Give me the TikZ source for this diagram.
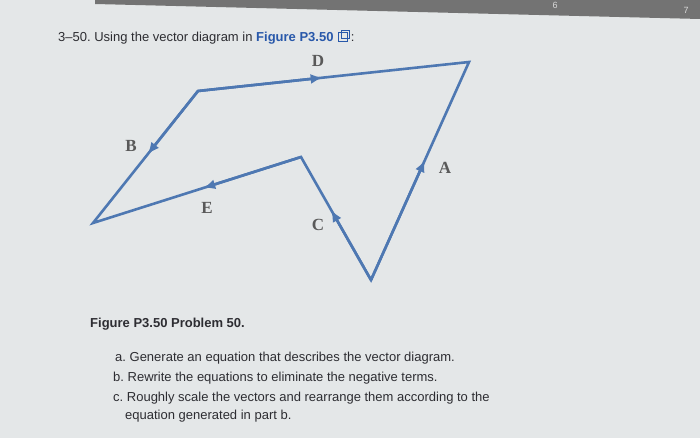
\documentclass[tikz,border=0pt]{standalone}
\usepackage{fontspec}
\setmainfont{Liberation Sans}
\newfontfamily\labelfont{Liberation Serif}
\usetikzlibrary{calc, arrows.meta}
\definecolor{vecblue}{RGB}{78,120,178}
\definecolor{linkblue}{RGB}{40,88,170}
\definecolor{paper}{RGB}{228,231,232}
\definecolor{inktext}{RGB}{45,45,50}
\frenchspacing

\begin{document}
\begin{tikzpicture}[x=1pt,y=-1pt]
\tikzstyle{edge}=[draw=vecblue, line width=2.6pt, line join=miter]
\tikzstyle{tip}=[draw=vecblue, line width=2.6pt, -{Latex[length=12pt, width=10pt]}]
\tikzstyle{lbl}=[font=\labelfont\bfseries\fontsize{17}{17}\selectfont, text=black!65]
\tikzstyle{txt}=[anchor=base west, inner sep=0pt, font=\fontsize{13}{13}\selectfont, text=inktext]
\useasboundingbox (0,0) rectangle (700,438);
\fill[paper] (0,0) rectangle (700,438);
% ruler strip at the top
\fill[black!55] (95,0) -- (700,0) -- (700,19) -- (95,4) -- cycle;
\node[font=\fontsize{9}{9}\selectfont, text=white!85!black] (R_6) at (555,5) {6};
\node[font=\fontsize{9}{9}\selectfont, text=white!85!black] (R_7) at (686,10) {7};
% heading
\node[txt] (T_0) at (58,42) {3--50. Using the vector diagram in \textcolor{linkblue}{\textbf{Figure P3.50}}};
\draw[linkblue, line width=0.9pt] ($(T_0.base east)+(5,-1)$) rectangle ++(9,-9);
\draw[linkblue, line width=0.9pt] ($(T_0.base east)+(8,-4)$) rectangle ++(8,-8);
\node[txt] (T_1) at ($(T_0.base east)+(17,0)$) {:};
% corners of the vector diagram
\coordinate (V_1) at (198,91);
\coordinate (V_2) at (469,62);
\coordinate (V_3) at (371,280);
\coordinate (V_4) at (301,157);
\coordinate (V_5) at (93,223);
\path[edge] (V_5) -- (V_1) -- (V_2) -- (V_3) -- (V_4) -- cycle;
% arrowheads half way along each vector
\path[tip] (V_1) -- ($(V_1)!0.46!(V_2)$);
\path[tip] (V_3) -- ($(V_3)!0.55!(V_2)$);
\path[tip] (V_3) -- ($(V_3)!0.57!(V_4)$);
\path[tip] (V_4) -- ($(V_4)!0.47!(V_5)$);
\path[tip] (V_1) -- ($(V_1)!0.48!(V_5)$);
\node[lbl] (D) at (318,61) {D};
\node[lbl] (B) at (131,146) {B};
\node[lbl] (A) at (445,168) {A};
\node[lbl] (E) at (207,208) {E};
\node[lbl] (C) at (318,225) {C};
% caption and questions
\node[txt, font=\bfseries\fontsize{13}{13}\selectfont] (F_0) at (90,327) {Figure P3.50 Problem 50.};
\node[txt] (Q_a) at (115,361) {a. Generate an equation that describes the vector diagram.};
\node[txt] (Q_b) at (113,381) {b. Rewrite the equations to eliminate the negative terms.};
\node[txt] (Q_c) at (113,401) {c. Roughly scale the vectors and rearrange them according to the};
\node[txt] (Q_d) at (125,419) {equation generated in part b.};
\end{tikzpicture}
\end{document}
